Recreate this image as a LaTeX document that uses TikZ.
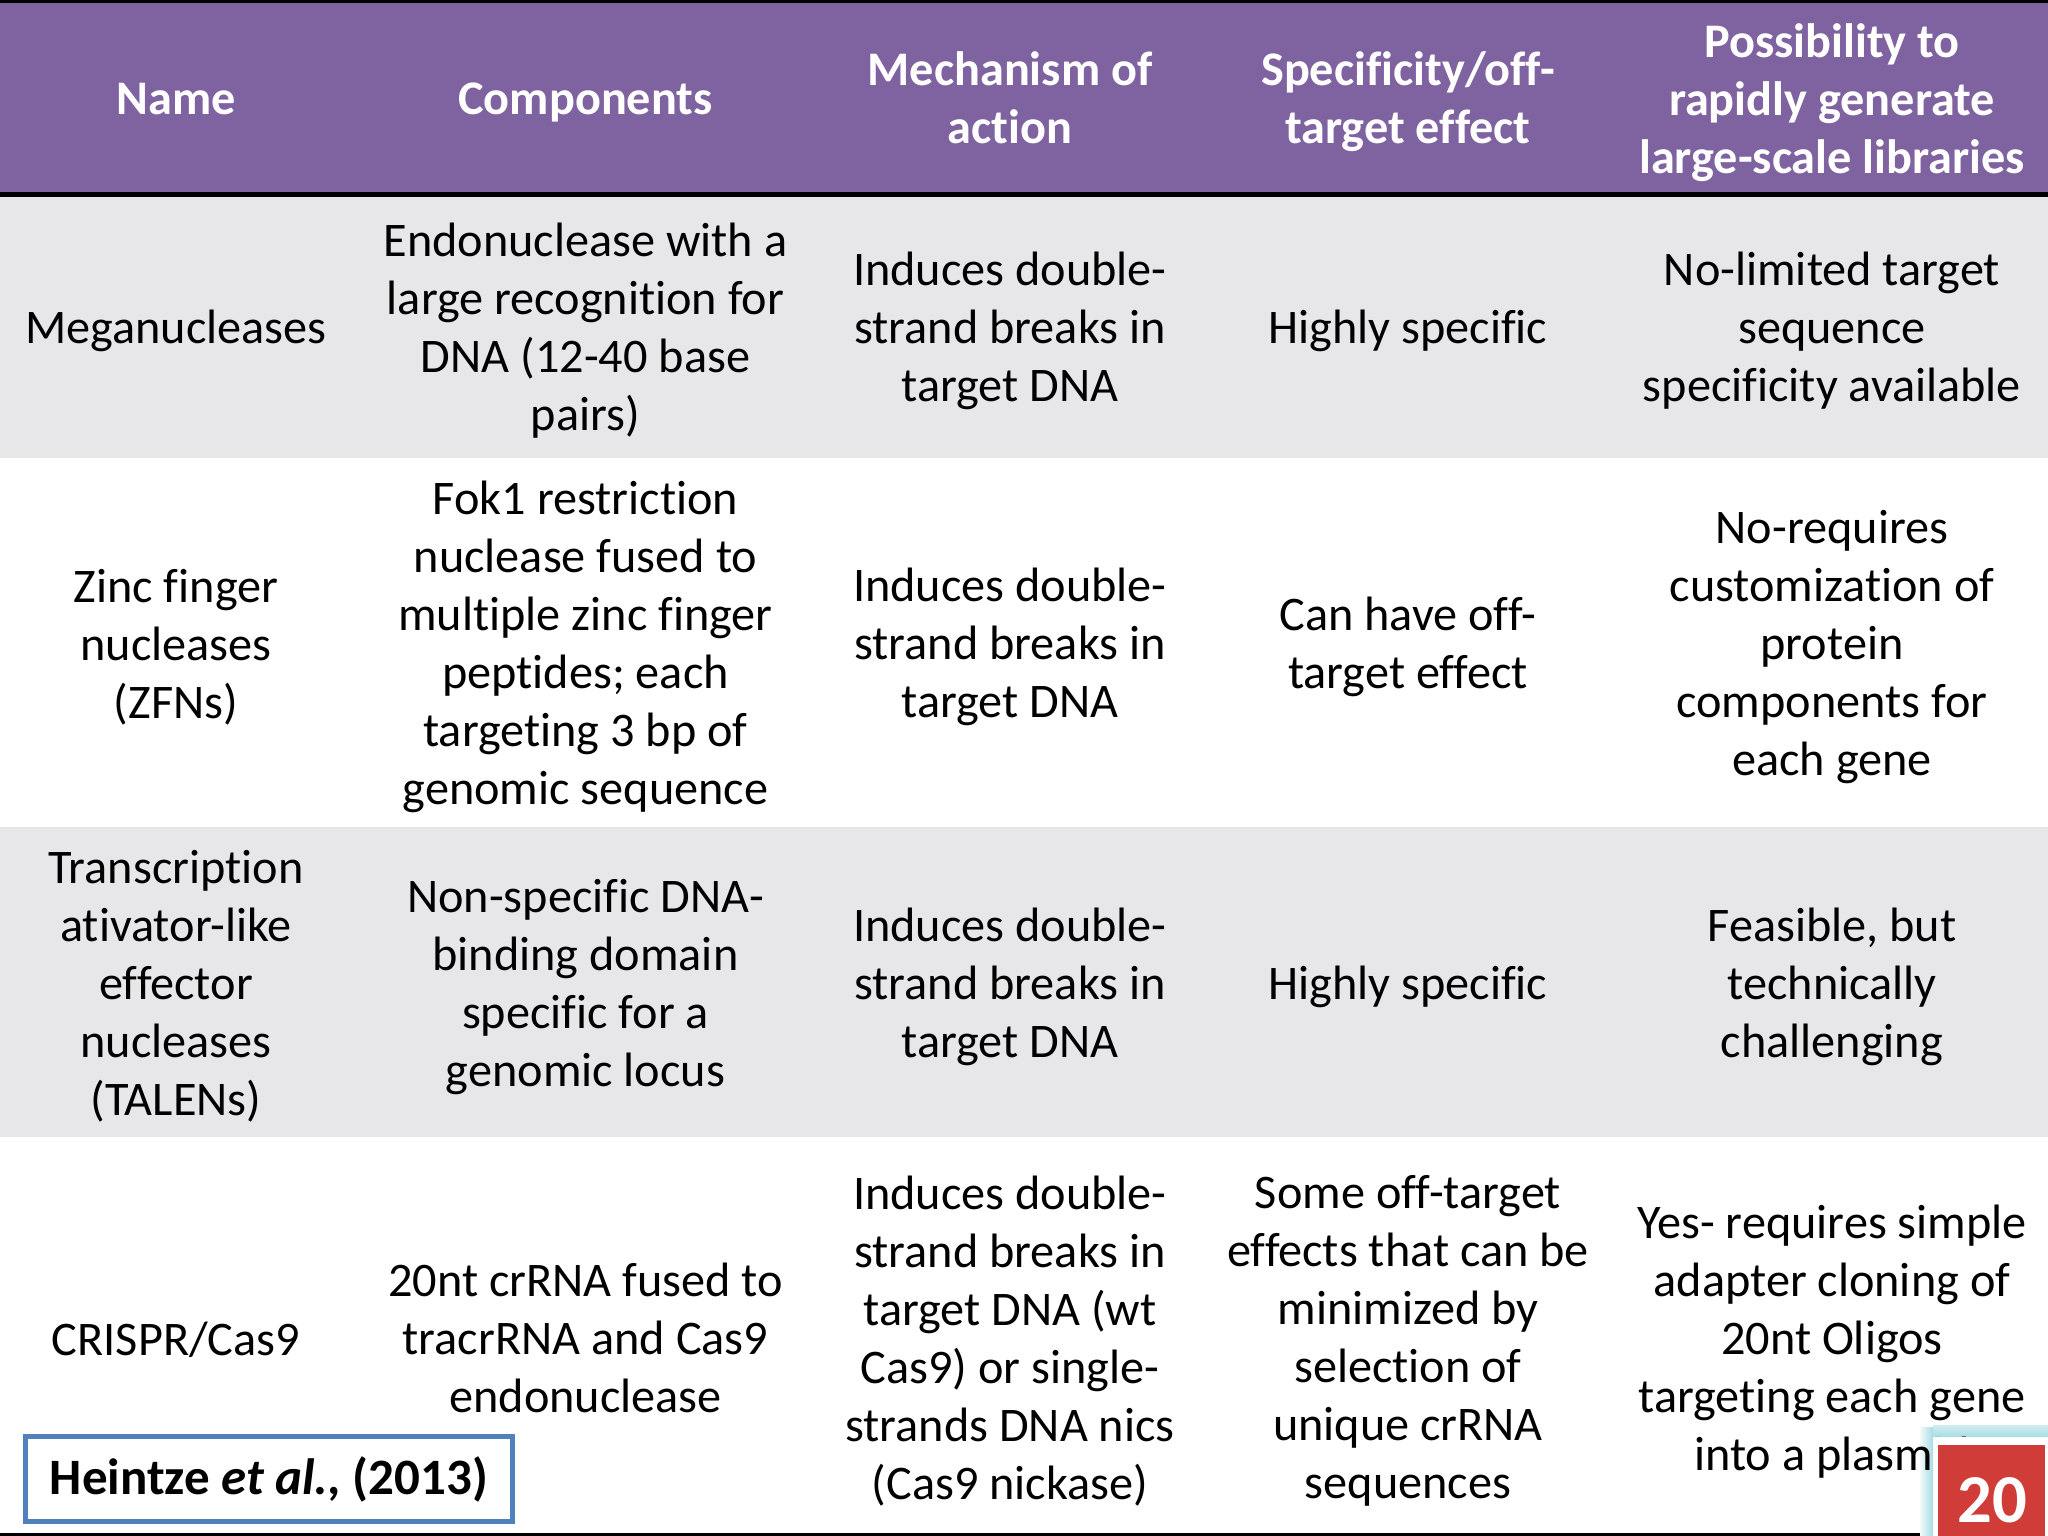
\documentclass[tikz,border=0pt]{standalone}
\usepackage{fontspec}
\setmainfont[Ligatures=NoCommon]{Carlito}
\usetikzlibrary{positioning}
\definecolor{head-color}{HTML}{7F63A1}
\definecolor{band-color}{HTML}{E7E6E9}
\definecolor{cite-color}{HTML}{4F81BD}
\definecolor{glow-color}{HTML}{A5DCE4}
\definecolor{badge-color}{HTML}{D03C38}
\begin{document}
\begin{tikzpicture}[x=0.01cm, y=-0.01cm,
                every node/.append style={align=center, inner sep=0pt},
                cell/.style={font=\fontsize{13.72}{16.5}\selectfont, text=black},
                headcell/.style={font=\fontsize{13.72}{16.5}\selectfont\bfseries, text=white},
                rule/.style={line width=#1, black}]
    \useasboundingbox (0,0) rectangle (2048,1536);
    % bands
    \fill[white] (0,0) rectangle (2048,1536);
    \fill[head-color] (0,0) rectangle (2048,195);
    \fill[band-color] (0,195) rectangle (2048,458);
    \fill[band-color] (0,827) rectangle (2048,1137);
    \draw[rule=0.03cm] (0,1.5) -- (2048,1.5);
    \draw[rule=0.05cm] (0,194.5) -- (2048,194.5);
    \draw[rule=0.03cm] (0,1534.5) -- (2048,1534.5);

    % glow of the page number
    \shade[left color=glow-color!15, right color=glow-color] (1920,1427) rectangle (1933,1536);
    \shade[top color=glow-color!50, bottom color=glow-color] (1933,1425) rectangle (2048,1437);

    % header
    \node[headcell] (h-name) at (176,99.5) {Name};
    \node[headcell] (h-comp) at (585.5,102){Components};
    \node[headcell] (h-mech) at (1010,98)  {Mechanism of\\action};
    \node[headcell] (h-spec) at (1408,102) {Specificity/off-\\target effect};
    \node[headcell] (h-poss) at (1832,102.5) {Possibility to\\rapidly generate\\large-scale libraries};

    % meganucleases
    \node[cell] (a-name) at (176,331)  {Meganucleases};
    \node[cell] (a-comp) at (585.5,331)  {Endonuclease with a\\large recognition for\\DNA (12-40 base\\pairs)};
    \node[cell] (a-mech) at (1010,331) {Induces double-\\strand breaks in\\target DNA};
    \node[cell] (a-spec) at (1408,331) {Highly specific};
    \node[cell] (a-poss) at (1832,331) {No-limited target\\sequence\\specificity available};

    % zinc finger
    \node[cell] (b-name) at (176,647)  {Zinc finger\\nucleases\\(ZFNs)};
    \node[cell] (b-comp) at (585.5,647)  {Fok1 restriction\\nuclease fused to\\multiple zinc finger\\peptides; each\\targeting 3 bp of\\genomic sequence};
    \node[cell] (b-mech) at (1010,647) {Induces double-\\strand breaks in\\target DNA};
    \node[cell] (b-spec) at (1408,647) {Can have off-\\target effect};
    \node[cell] (b-poss) at (1832,647) {No-requires\\customization of\\protein\\components for\\each gene};

    % talens
    \node[cell] (c-name) at (176,986)  {Transcription\\ativator-like\\effector\\nucleases\\(TALENs)};
    \node[cell] (c-comp) at (585.5,987)  {Non-specific DNA-\\binding domain\\specific for a\\genomic locus};
    \node[cell] (c-mech) at (1010,987) {Induces double-\\strand breaks in\\target DNA};
    \node[cell] (c-spec) at (1408,986.5) {Highly specific};
    \node[cell] (c-poss) at (1832,987) {Feasible, but\\technically\\challenging};

    % crispr
    \node[cell] (d-name) at (176,1340)  {CRISPR/Cas9};
    \node[cell] (d-comp) at (585.5,1338)  {20nt crRNA fused to\\tracrRNA and Cas9\\endonuclease};
    \node[cell] (d-mech) at (1010,1341) {Induces double-\\strand breaks in\\target DNA (wt\\Cas9) or single-\\strands DNA nics\\(Cas9 nickase)};
    \node[cell] (d-spec) at (1408,1341) {Some off-target\\effects that can be\\minimized by\\selection of\\unique crRNA\\sequences};
    \node[cell] (d-poss) at (1832,1341.5) {Yes- requires simple\\adapter cloning of\\20nt Oligos\\targeting each gene\\into a plasmid};

    % citation
    \node[draw=cite-color, line width=0.05cm, fill=white, minimum width=4.86cm, minimum height=0.85cm,
          font=\fontsize{14.5}{16}\selectfont\bfseries] (cite) at (269,1479) {\raisebox{-2pt}{Heintze \textit{et al.,} (2013)}};

    % page number
    \fill[white] (1933,1437) rectangle (2048,1536);
    \fill[badge-color] (1938,1445) rectangle (2045,1536);
    \node[text=white, font=\fontsize{19.5}{22}\selectfont\bfseries] (page) at (1992,1500) {20};
\end{tikzpicture}
\end{document}
